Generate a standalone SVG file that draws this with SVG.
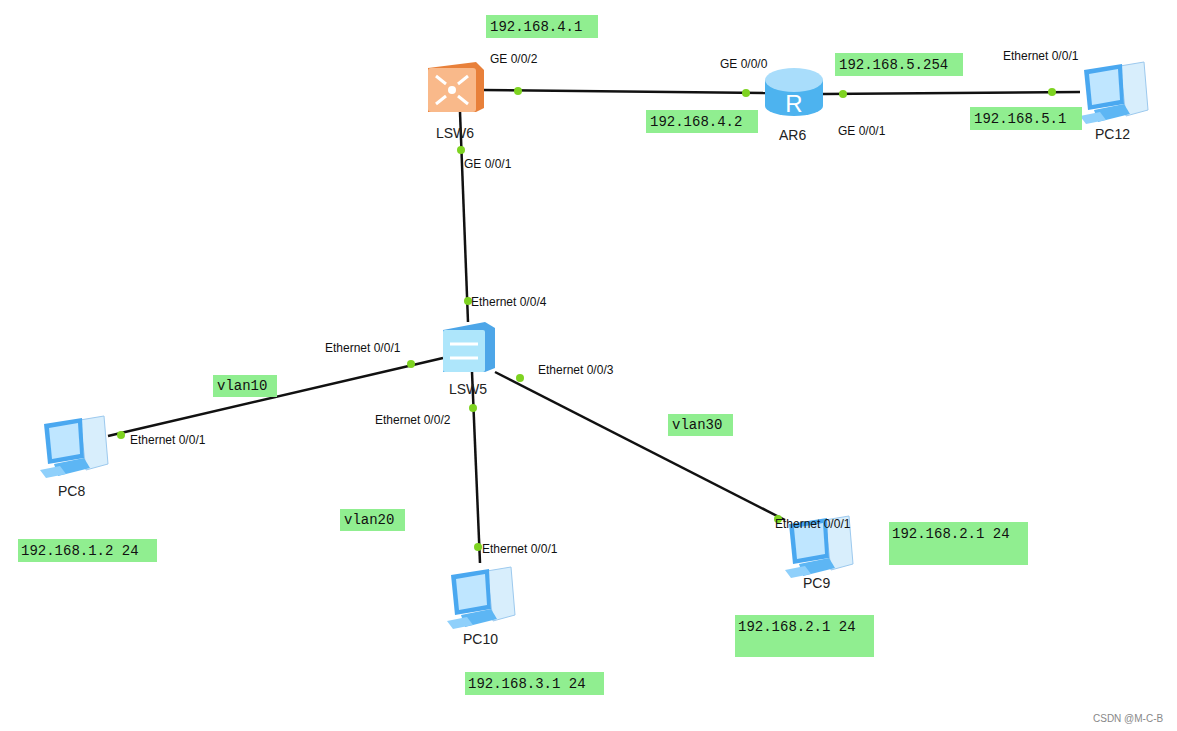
<svg xmlns="http://www.w3.org/2000/svg" width="1177" height="731" viewBox="0 0 1177 731">
<style>
.l{stroke:#111;stroke-width:2.5;fill:none}
.d{fill:#7ed321}
.p{font-family:"Liberation Sans",Arial,sans-serif;font-size:12px;fill:#111}
.n{font-family:"Liberation Sans",Arial,sans-serif;font-size:14px;fill:#222}
.g{fill:#90ee90}
.m{font-family:"Liberation Mono","Courier New",monospace;font-size:14px;fill:#111}
</style>
<defs>
<g id="pc">
<path d="M40 8 L64 4 L68 52 L46 58 Z" fill="#d8eefc" stroke="#9cc9ee"/>
<path d="M4 12 L42 6 L44 46 L8 52 Z" fill="#4aa8f0"/>
<path d="M9 16 L38 11 L40 42 L12 47 Z" fill="#bfe6ff"/>
<path d="M14 52 L44 46 L50 56 L18 64 Z" fill="#5db6f4"/>
<path d="M0 58 L20 54 L26 62 L6 66 Z" fill="#8fd0fb"/>
</g>
</defs>
<rect width="1177" height="731" fill="#fff"/>
<g id="connectors">
<line class="l" x1="482" y1="90" x2="765" y2="93"/>
<line class="l" x1="823" y1="94" x2="1080" y2="92"/>
<line class="l" x1="460" y1="112" x2="468" y2="322"/>
<line class="l" x1="443" y1="358" x2="108" y2="436"/>
<line class="l" x1="472" y1="372" x2="480" y2="563"/>
<line class="l" x1="495" y1="372" x2="785" y2="520"/>
<circle class="d" cx="518" cy="91" r="4"/><circle class="d" cx="746" cy="93" r="4"/>
<circle class="d" cx="843" cy="94" r="4"/><circle class="d" cx="1052" cy="92" r="4"/>
<circle class="d" cx="461" cy="150" r="4"/><circle class="d" cx="468" cy="301" r="4"/>
<circle class="d" cx="411" cy="364" r="4"/><circle class="d" cx="121" cy="435" r="4"/>
<circle class="d" cx="473" cy="408" r="4"/><circle class="d" cx="478" cy="547" r="4"/>
<circle class="d" cx="520" cy="378" r="4"/><circle class="d" cx="778" cy="519" r="4"/>
</g>
<g id="LSW6">
<path d="M428 68 L476 62 L484 70 L484 108 L476 112 L428 112 Z" fill="#e8803a"/>
<rect x="428" y="68" width="48" height="44" rx="3" fill="#f9b98a"/>
<circle cx="452" cy="90" r="4" fill="#fff"/>
<path d="M436 76 L446 84 M468 76 L458 84 M436 104 L446 96 M468 104 L458 96" stroke="#fff" stroke-width="3"/>
<text class="n" x="436" y="138">LSW6</text>
</g>
<g id="AR6">
<path d="M765 80 L765 106 A29 10 0 0 0 823 106 L823 80 Z" fill="#4db3ef"/>
<ellipse cx="794" cy="80" rx="29" ry="12" fill="#a9ddfb"/>
<text x="794" y="112" font-family="Liberation Sans,sans-serif" font-size="24" fill="#fff" text-anchor="middle">R</text>
<text class="n" x="779" y="140">AR6</text>
</g>
<g id="PC12"><use href="#pc" transform="translate(1080,58)"/><text class="n" x="1095" y="139">PC12</text></g>
<g id="LSW5">
<path d="M443 330 L485 322 L495 328 L495 368 L485 372 L443 372 Z" fill="#4da6e8"/>
<rect x="443" y="330" width="42" height="42" rx="2" fill="#aee6fb"/>
<path d="M450 344 L478 344 M450 358 L478 358" stroke="#fff" stroke-width="3"/>
<text class="n" x="449" y="394">LSW5</text>
</g>
<g id="PC8"><use href="#pc" transform="translate(40,412)"/><text class="n" x="58" y="496">PC8</text></g>
<g id="PC10"><use href="#pc" transform="translate(447,563)"/><text class="n" x="463" y="644">PC10</text></g>
<g id="PC9"><use href="#pc" transform="translate(785,512)"/><text class="n" x="803" y="588">PC9</text></g>
<g id="ports">
<text class="p" x="490" y="63">GE 0/0/2</text>
<text class="p" x="720" y="68">GE 0/0/0</text>
<text class="p" x="838" y="135">GE 0/0/1</text>
<text class="p" x="1003" y="60">Ethernet 0/0/1</text>
<text class="p" x="464" y="168">GE 0/0/1</text>
<text class="p" x="471" y="306">Ethernet 0/0/4</text>
<text class="p" x="325" y="352">Ethernet 0/0/1</text>
<text class="p" x="538" y="374">Ethernet 0/0/3</text>
<text class="p" x="375" y="424">Ethernet 0/0/2</text>
<text class="p" x="130" y="444">Ethernet 0/0/1</text>
<text class="p" x="482" y="553">Ethernet 0/0/1</text>
<text class="p" x="775" y="528">Ethernet 0/0/1</text>
</g>
<g id="labels">
<rect class="g" x="486" y="15" width="112" height="23"/><text class="m" x="490" y="31">192.168.4.1</text>
<rect class="g" x="646" y="110" width="112" height="23"/><text class="m" x="650" y="126">192.168.4.2</text>
<rect class="g" x="835" y="53" width="128" height="23"/><text class="m" x="839" y="69">192.168.5.254</text>
<rect class="g" x="970" y="107" width="112" height="23"/><text class="m" x="974" y="123">192.168.5.1</text>
<rect class="g" x="213" y="375" width="64" height="22"/><text class="m" x="217" y="390">vlan10</text>
<rect class="g" x="668" y="414" width="65" height="22"/><text class="m" x="672" y="429">vlan30</text>
<rect class="g" x="340" y="509" width="65" height="22"/><text class="m" x="344" y="524">vlan20</text>
<rect class="g" x="18" y="539" width="139" height="23"/><text class="m" x="21" y="555">192.168.1.2 24</text>
<rect class="g" x="889" y="522" width="139" height="43"/><text class="m" x="892" y="538">192.168.2.1 24</text>
<rect class="g" x="735" y="615" width="139" height="42"/><text class="m" x="738" y="631">192.168.2.1 24</text>
<rect class="g" x="465" y="672" width="139" height="23"/><text class="m" x="468" y="688">192.168.3.1 24</text>
</g>
<text x="1093" y="722" font-family="Liberation Sans,sans-serif" font-size="10" fill="#888">CSDN @M-C-B</text>
</svg>
